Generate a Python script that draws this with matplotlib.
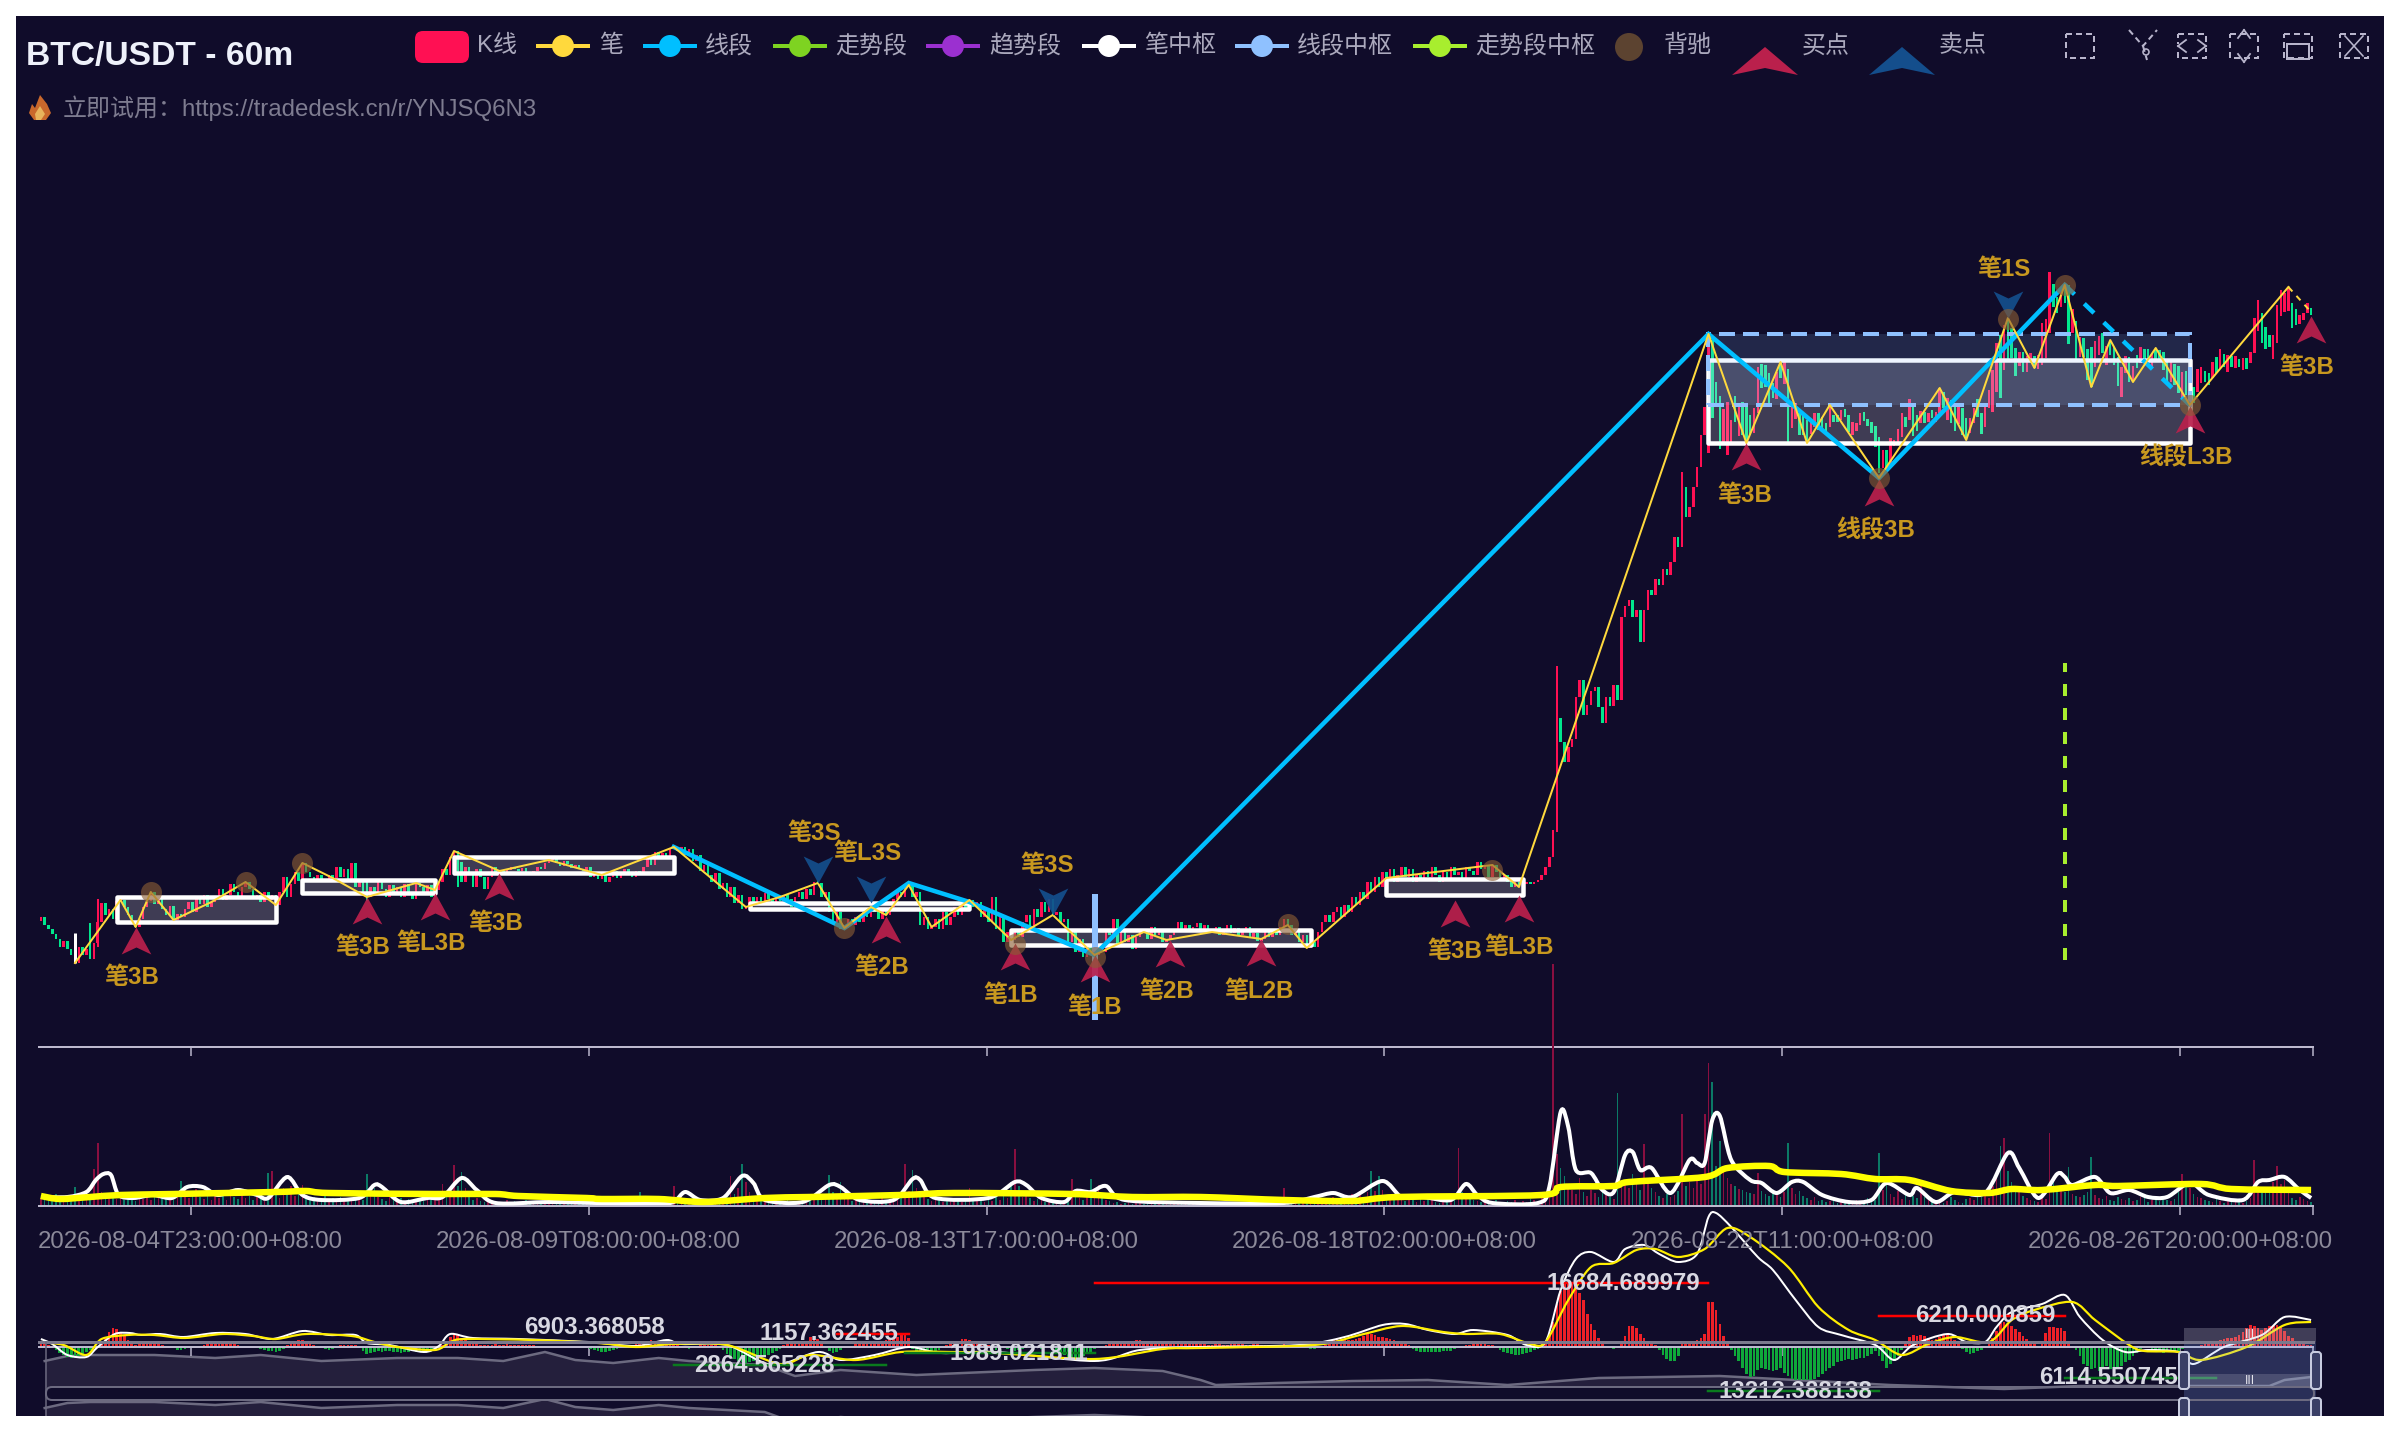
import numpy as np
import matplotlib
matplotlib.use('Agg')
import matplotlib.pyplot as plt
from matplotlib.path import Path
from matplotlib.patches import Rectangle, FancyBboxPatch, Circle, Polygon, PathPatch

plt.rcParams['font.family'] = ['Liberation Sans', 'Noto Sans CJK SC', 'DejaVu Sans']

# ---------- data (price / volume / MACD in screen-proportional units) ----------
first_open = 126
closes = [
 130,122,118,113,108,100,106,98,92,84,
 100,92,98,88,104,125,144,132,138,128,146,147,
 140,132,125,120, 128,140,146,155, 143,150,138,132,141,127,
 133,130,138,145,135,148,143,152,140,145,
 150,158,147,152,163,155,148,160,165,
 158,150,152,145,155,147,152,142,
 155,170,150,163,175,166,184,
 175,170,166,172,168,165,172,169,
 180,170,178,165,184,160,168,155,150,
 160,152,165,158,150,162,155,160,150,163,155,148,164,
 160,153,162,150,157, 165,178,172,190,196,
 185,165,180,172,160,178,170,158,170,180,172,176,
 172,177,180,178,176,179,174,172,176,180,178,184,187,
 190,184,181,186,183,179,182,178,176,180,170,174,168,172,
 165,170,176,169,173,178,173,170,176,172,180,190,182,195,188,194,191,198,200,
 196,200,192,198,186,192,176,182,172,165,174,158,164,150,160,144,152,138,140,
 150,144,150,146,154,148,144,150,146,152,148,140,150,155,148,158,152,165,164,
 150,155,135,125,135,118,119, 128,122,130,125,135,130,140, 135,128,138,132,
 140,148,155,150,160,162, 150,155,122,130,118,120,
 128,118,135,122,130,140,132,145,138,147,
 140,145,130,138,125,150,118,130,105,115,107,
 118,110,125,132,120,138,130,145,135,148,132,
 135,125,128,105,115,95,108,90,100,92,92,
 100,95,118,112,128,100,118,105,112,98,110,118,115,
 108,120,112,118,105,107,
 112,118,125,118,122,115,120,124,118,122,116,115,
 120,112,118,122,114,119,112,116,120,110,114,106,108,
 115,110,118,112,120,128,122, 112,116,105,112,99,
 105,100,115,125,132,125,135,140,130,142,135,150,142,155,148,165,155,170,160,175,169,
 178,165,172,180,170,178,165,172,168,176,170,180,172,165,175,168,180,172,175,168,180,176,172,185,178,182,170,182,
 175,168,172,165,160,165,160,
 163,164,163,165,167,172,180,
 190,217,329,305,285,300,308,350,367,332,342,356,360,340,324,350,341,362,347,430,441,447,430,437,405,437,457,
 452,468,462,478,472,485,510,500,560,530,540,560,580,612,640,
]
wick_idx  = [13,86,400,417,433,15,110]
wick_high = [124,165,381,430,575,148,192]
wick_low  = [89,146,215,357,514,100,160]

# bars 440..599: top, bottom, rising flag
late_high = [714,707,665,651,638,645,627,651,640,645,640,632,639,680,683,682,674,664,675,686,
 686,678,640,644,634,634,627,628,634,634,630,624,640,632,632,637,638,632,625,624,
 634,635,628,625,621,610,597,597,609,607,618,634,630,648,644,632,636,635,634,637,
 635,659,655,649,647,642,640,639,629,629,639,648,634,642,657,677,704,712,722,727,
 719,699,695,695,691,694,691,692,724,728,775,763,750,757,760,762,738,726,710,709,
 698,700,706,711,714,701,707,700,690,680,691,690,681,692,700,698,698,694,697,697,
 695,687,688,683,681,675,676,661,660,678,680,676,674,685,690,698,693,692,691,691,
 688,689,689,695,729,747,734,720,712,712,742,757,754,760,744,738,732,734,744,739]
late_low = [594,629,641,598,603,592,602,625,611,612,606,612,614,634,659,660,644,649,648,669,
 663,602,619,628,612,612,602,613,620,617,615,615,620,625,625,627,630,615,612,616,
 622,626,621,614,600,574,579,579,582,601,603,610,620,627,611,616,624,624,625,629,
 625,634,639,627,624,616,623,612,607,614,624,630,613,620,639,635,655,649,677,685,
 689,671,681,675,675,686,679,678,682,689,714,740,734,740,744,703,714,686,690,690,
 667,660,680,692,694,682,692,682,661,650,674,665,667,679,684,684,684,679,685,687,
 677,664,665,662,654,649,652,630,644,655,664,665,662,669,674,679,680,675,680,679,
 680,677,678,684,694,716,704,698,700,688,704,731,735,736,719,722,723,727,734,732]
late_up = [1,0,0,0,1,1,1,0,1,0,0,0,1,1,0,0,0,0,1,0,
 1,0,1,1,0,0,0,1,1,0,0,0,1,0,0,1,0,0,1,1,
 1,0,0,0,0,0,1,0,1,1,1,1,0,1,0,0,1,0,1,0,
 1,1,0,1,0,0,1,0,0,1,1,0,0,1,1,1,1,0,1,0,
 0,0,1,0,1,1,0,1,1,1,1,0,0,1,0,0,1,0,1,0,
 0,0,1,1,0,1,0,0,0,1,1,0,1,0,1,0,0,1,0,0,
 0,0,1,0,0,1,0,1,0,1,1,0,0,1,0,1,0,1,0,1,
 0,1,0,1,1,1,0,0,0,1,1,1,1,1,0,0,1,1,1,0]

bi_idx = [9,21,25,29,35,45,54,62,69,77,86,99,104,109,121,134,148,167,186,195,205,212,219,223,229,235,245,256,267,278,291,297,309,322,329,334,355,383,390,440,450,459,466,472,485,501,508,519,526,534,541,546,552,558,567,593]
bi_val = [84,147,120,155,127,145,165,142,184,169,150,164,157,196,176,187,172,200,140,150,164,119,140,132,162,120,147,107,132,92,115,107,115,108,122,99,169,182,160,713,604,685,604,642,569,659,607,729,679,762,660,707,665,699,642,760]
bi_dash_idx = [593,599]
bi_dash_val = [760,735]

seg_idx = [167,212,229,245,278,440,485,534]
seg_val = [200,119,164,145,92,713,569,762]
seg_dash_idx = [534,567]
seg_dash_val = [762,642]

# pen hubs: start bar, end bar, low, high
bi_hub_start = [20,69,109,187,256,355,440]
bi_hub_end   = [62,104,167,245,335,391,567]
bi_hub_low   = [125,154,174,138,102,152,604]
bi_hub_high  = [150,167,190,144,117,168,687]
seg_hub = (440,567,642,713)
seg_hub_flat = (278,27,153)
bi_hub_flat = (9,84,114)
trend_hub_flat = (534,87,384)

buy_idx = [25,86,104,121,223,257,278,298,322,373,390,450,485,567,599]
buy_val = [120,150,154,174,131,104,92,107,108,147,152,604,568,641,731]
sell_idx = [205,219,267,519]
sell_val = [164,144,132,729]
div_idx = [29,54,69,212,257,278,329,383,519,534,485,567]
div_val = [155,165,184,119,103,90,123,177,728,762,569,642]

sig_text = ['笔3B','笔3B','笔L3B','笔3B','笔3S','笔L3S','笔2B','笔1B','笔1B','笔3S','笔2B','笔L2B','笔3B','笔L3B','笔3B','线段3B','线段L3B','笔1S','笔3B']
sig_idx  = [24,85,103,120,204,218,222,256,278,265.5,297,321.5,373,390,449.5,484,566,518,598]
sig_val  = [69,99,104,124,214,193,80,52,40,182,56,56,95,100,552,516,589,778,680]

volume = [
 8,6,9,5,12,7,10,6,8,19,6,9,11,7,37,63,14,10,8,12,
 7,9,6,11,8,5,10,7,12,6,9,8,13,7,10,6,9,25,18,8,
 11,17,9,7,12,6,14,8,10,6,13,9,7,15,8,10,6,9,12,7,
 33,35,11,8,18,14,20,10,12,21,8,6,9,5,7,10,6,8,4,9,
 6,8,5,7,10,6,32,14,18,9,7,5,9,6,4,8,5,7,6,4,
 8,5,7,6,9,11,22,14,16,41,20,34,18,9,6,8,5,4,6,3,
 5,3,4,6,3,5,2,4,6,3,5,4,3,6,4,3,5,2,4,3,
 5,3,4,2,5,3,4,3,5,2,4,3,5,4,2,3,5,3,14,4,
 5,3,6,4,3,5,6,20,8,11,6,4,9,3,5,7,4,6,5,3,
 9,13,30,12,18,42,24,14,9,6,8,5,7,4,6,5,3,6,4,5,
 4,6,3,5,7,9,8,12,31,14,9,24,12,7,5,8,6,4,7,5,
 6,4,8,5,7,9,6,11,42,15,36,18,12,9,7,5,8,6,4,7,
 5,6,8,4,7,18,5,8,6,4,7,5,9,6,11,8,24,57,20,9,
 14,8,5,7,6,4,5,3,6,4,3,5,27,10,8,6,9,27,12,21,
 8,6,5,3,4,2,3,5,2,4,3,2,4,3,2,3,2,4,3,2,
 3,2,4,2,3,2,3,2,1,3,2,3,2,3,2,3,2,2,3,2,
 3,2,3,2,4,3,2,3,18,3,4,2,5,3,4,6,3,5,4,6,
 7,9,8,10,6,8,12,9,11,9,14,35,15,30,16,11,8,6,9,7,
 5,8,6,4,7,5,9,6,4,3,6,5,7,8,58,14,12,8,6,5,
 4,7,5,3,6,4,3,5,4,6,3,5,4,7,6,5,8,14,20,242,
 52,38,30,18,16,12,28,14,10,16,13,9,15,11,9,7,113,20,24,18,
 32,22,16,62,26,18,14,10,8,12,9,11,15,92,20,24,18,30,22,92,
 143,124,40,65,38,28,22,20,17,16,14,13,12,33,15,12,10,16,12,9,
 14,63,18,12,15,10,8,6,9,5,6,4,5,7,3,4,5,3,4,6,
 3,5,8,4,6,53,16,22,12,9,15,7,11,6,10,8,23,9,7,5,
 4,6,3,5,9,6,4,3,7,8,6,11,9,14,8,20,30,60,68,35,
 24,18,14,10,8,6,5,4,9,7,73,25,18,16,14,39,12,10,9,11,
 14,49,11,8,7,10,6,5,9,7,6,8,5,6,9,8,4,6,7,5,
 8,6,5,7,14,32,22,18,12,9,8,6,5,4,7,5,3,6,4,5,
 6,3,5,8,46,20,16,14,18,24,40,22,26,15,8,6,9,7,5,4,
]

vol_ma_fast_idx = [0,7,12,14.5,16.5,18.5,20.5,24.5,29.5,34.6,38.6,42.7,46.7,52,57,60,65,69,74,84,88,90,95,102,106,111,115,120,134,146.5,163,167,170,174,180,185,188,191,201,208,211,216,225,230,232,236,250,257,260,264,270,273,277,281,286,306,328,336,341,346,354,359,364.5,372,376,379,383,395,398,401,403,405,409,412,415,418,420,422,425,430,435,437,439,441,443,446,451,454,458,462,465,470,477,483,487,493,495,500,505,513,519,522,527,532,534,536,542,546,551,556,561,567,572,581,585,588,592,596,599]
vol_ma_fast = [9,9,14,26,32,31,11,8,11,8,19,19,11,16,11,8,29,11,6,8,21,19,4,8,9,28,16,3,4,3,3,4,14,6,8,30,23,6,4,21,19,6,6,27,26,8,8,24,21,8,4,15,14,20,6,3,3,9,13,9,25,9,9,6,22,11,3,3,19,94,79,36,33,16,14,51,54,36,38,13,46,43,43,86,90,46,26,23,13,24,24,11,4,6,23,11,18,4,14,13,53,38,8,32,29,21,29,13,16,9,9,23,11,6,24,26,29,16,8]
vol_ma_slow_idx = [0,5,13,21,35,62,70,76,104,120,126,144,148,163,175,191,203,227,241,272,288,306,328,346,358,396,401,415,419,439,445,456,460,475,484,493,504,514,520,528,542,548,570,578,599]
vol_ma_slow = [10,7,9,11,12,14,15,13,12,12,10,8,7,7,4,8,9,11,13,12,9,9,6,5,9,11,19,20,24,29,38,40,34,32,27,26,15,13,17,16,21,20,22,17,16]

macd_hist = [
 5,3,1,-1,-4,-7,-9,-11,-12,-11,-10,-8,-6,-4,-2,-1,
 2,8,14,18,17,14,10,6,3,
 1,2,2,3,3,3,2,1,0,
 -1,-2,-4,-4,-3,-1,-1,-1,0,
 1,2,3,3,3,3,3,2,2,1,0,0,0,
 -1,-2,-3,-4,-5,-5,-6,-5,-3,
 1,3,5,6,6,4,2,1,
 0,-1,-3,-4,-3,-1,
 1,1,1,1,1,
 -2,-5,-8,-7,-6,-5,-6,-5,-5,-6,-6,-7,-6,-6,-5,-6,-5,-5,-4,-3,-1,-1,
 1,5,9,12,11,8,7,5,3,2,1,
 1,1,1,2,1,1,2,1,1,1,1,1,1,1,
 -1,-1,-1,-2,-1,-1,-2,-1,-1,-1,-2,-1,-1,
 -2,-3,-4,-5,-6,-6,-5,-4,-3,-2,-1,-1,
 1,2,3,4,5,6,5,4,3,3,2,2,1,
 -1,-2,-3,-2,-1,1,1,1,1,1,
 -1,-4,-8,-11,-13,-15,-16,-17,-16,-15,-14,-12,-11,-9,-7,-5,-3,
 1,2,3,3,3,4,5,9,10,7,5,
 -2,-5,-7,-6,-4,-2,-1,-1,
 2,4,4,4,5,5,5,5,6,7,8,9,11,11,8,
 -3,-5,-6,-7,-7,-6,-5,-4,-2,
 1,2,3,5,7,7,6,4,3,2,1,1,
 -2,-4,-3,-2,-3,-4,-5,-4,-3,-2,-2,-1,-2,-3,-2,-1,
 -2,-4,-6,-9,-11,-12,-12,-12,-10,-8,-6,-3,-2,-1,
 1,2,3,3,2,2,3,5,6,6,5,4,3,3,3,2,2,3,3,4,4,3,2,2,2,
 2,2,1,1,2,2,1,1,2,2,3,2,1,1,2,2,1,1,1,1,1,1,2,1,1,1,1,
 -1,-2,-3,-3,-2,-1,1,
 3,6,8,7,6,6,6,7,8,10,12,12,11,9,9,8,7,6,5,4,2,1,
 -3,-5,-6,-6,-6,-6,-6,-6,-5,-5,-5,-3,-2,-1,
 1,1,2,3,3,2,1,1,
 -2,-4,-6,-7,-8,-9,-9,-8,-7,-6,-4,-3,-1,
 3,10,24,42,55,62,62,62,62,53,46,32,22,16,8,4,
 -1,-2,-3,-1,
 2,10,20,20,18,12,8,4,2,1,
 -4,-9,-13,-15,-15,-10,
 2,3,4,5,6,8,12,44,44,36,22,10,5,
 -4,-10,-15,-22,-28,-31,-30,-24,-22,-23,-24,-25,-24,-22,-27,-30,-33,-34,-34,-34,-34,-34,-33,-31,-28,-25,-22,-20,-16,-15,-14,-13,-14,-13,-12,-12,-10,-8,-5,
 -10,-15,-22,-18,-15,-10,-4,
 4,9,11,10,11,10,8,6,7,9,11,11,9,6,3,
 -3,-6,-8,-7,-5,-4,-2,
 3,8,15,23,24,22,20,17,14,10,7,4,2,
 0,5,13,19,19,18,18,15,4,
 -1,-4,-10,-18,-20,-23,-22,-25,-23,-20,-23,-21,-22,-20,-16,-14,-10,-7,-3,
 -1,-2,-3,-5,-6,-7,-6,-4,-5,-6,-3,-2,-2,-1,-1,
 1,2,3,4,5,6,7,8,8,9,11,14,18,21,20,18,16,18,20,20,21,19,15,10,8,5,3,2,1,1,
]

dif_idx = [0,3,7,12,15,19.5,23.5,26.5,31.5,37.6,46,54,61,69,76,83,86,92,101,105,108,114,126,144.6,157,165,169,181,193,205,211,220,229,237.5,252,278,290,306,332,344,354,360,366,373,378,387,392,397,401,405,409,415,418,423,427,432,437,440,442,446,453,457,463,469,475,484,489,494,503,508,513,516,520,528,534,538,544,550,556,564,568,576,586,592,599]
dif_val = [7,2,-9,-11,-1,12,13,11,12,9,13,12,7,15,11,11,3,1,-6,0,12,8,7,4,0,6,2,1,-19,-6,-14,-9,-1,-7,-6,-15,-4,-1,1,9,21,22,16,12,16,11,1,4,56,87,94,84,97,101,92,84,92,129,133,119,89,76,46,19,11,1,-14,1,12,4,4,19,34,42,51,29,6,-6,-4,-6,-18,-1,11,29,26]
dea_idx = [0,6,12,16,23,30,38,48,56,62,70,82,88,94,104,108,112,130,147,157,167,181,195,203,215,227,240,252,278,296,306,336,348,359,370,376,385,393,397,403,409,415,421,426,432,439,445,451,461,469,477,484,491,498,505,514,520,526,536,542,551,555,564,570,582,592,599]
dea_val = [4,1,-9,7,11,11,8,12,10,7,12,10,4,-1,-4,4,7,6,3,-1,2,1,-18,-9,-14,-6,-6,-7,-13,-3,-2,1,11,20,14,12,12,2,4,46,79,83,96,97,89,97,118,109,79,39,16,6,-9,2,9,4,26,36,44,26,1,-5,-6,-14,-1,21,24]

mark_text = ['6903.368058','1157.362455','2864.565228','1989.021811','16684.689979','13212.388138','6210.000859','6114.550745']
mark_val  = [19,12,-19,-7,63,-45,30,-32]
mark_label_idx = [146,208,191,258,417.5,463,513,545.5]
mark_start = [None,210,167,228,278,440,485,534]
mark_end   = [None,229,223,278,440,485,534,574]
mark_up    = [True,True,False,False,True,False,True,False]

shadow_idx = [1,7,13,30,46,58,74,94,110,122,133,141,151,163,171,191,199,211,231,262,278,296,306,310,326,346,366,387,411,443,463,488,518,538,562,568,588,592,599]
shadow_val = [26,31,32,32,29,32,26,29,29,26,35,27,24,29,26,22,11,17,12,17,19,16,7,2,4,6,7,2,9,11,7,2,-2,1,1,1,1,7,10]

tick_pos = [40,145,250,355,460,565,600]
tick_labels = ['2026-08-04T23:00:00+08:00','2026-08-09T08:00:00+08:00','2026-08-13T17:00:00+08:00',
               '2026-08-18T02:00:00+08:00','2026-08-22T11:00:00+08:00','2026-08-26T20:00:00+08:00','']
legend_names = ['笔','线段','走势段','趋势段','笔中枢','线段中枢','走势段中枢']

assert len(closes) == 440, f'closes {len(closes)}'
assert len(late_high) == 160 and len(late_low) == 160 and len(late_up) == 160, f'late {len(late_high)} {len(late_low)} {len(late_up)}'
assert len(volume) == 600, f'volume {len(volume)}'
assert len(vol_ma_fast) == len(vol_ma_fast_idx), 'vf'
assert len(vol_ma_slow) == len(vol_ma_slow_idx), 'vs'
assert len(dif_val) == len(dif_idx), 'dif'
assert len(dea_val) == len(dea_idx), 'dea'
assert len(shadow_val) == len(shadow_idx), 'sh'
assert len(bi_val) == len(bi_idx), 'bi'
assert len(macd_hist) == 600, f'macd {len(macd_hist)}'

# ---------- styles ----------
BG = '#100C2A'; UP = '#FF1053'; DOWN = '#00E68C'
C_BI = '#FFD93D'; C_SEG = '#00BFFF'; C_TREND = '#7ED321'; C_QS = '#9B30D0'
C_BIHUB = '#FFFFFF'; C_SEGHUB = '#8FC1FF'; C_TRENDHUB = '#A8EE2E'
C_BUY = '#BA204C'; C_SELL = '#144E8C'; C_DIV = '#8B5E34'
C_GOLD = '#C8981F'; C_AXIS = '#BDB9CE'; C_TICK = '#8C8A9A'; C_LEG = '#ABA9BD'
W, H = 2400, 1440
PT = 72 / 100

fig = plt.figure(figsize=(24, 14.4), dpi=100, facecolor='white')

def px_axes(x0, y0, x1, y1, z):
    ax = fig.add_axes([x0 / W, 1 - y1 / H, (x1 - x0) / W, (y1 - y0) / H], zorder=z)
    ax.patch.set_alpha(0)
    return ax

def smooth(ax, xs, ys, t=0.3, **kw):
    """Draw a smoothed line through the given points (as the chart's smooth:true line)."""
    p = np.column_stack([xs, ys]).astype(float)
    verts = [p[0]]; codes = [Path.MOVETO]
    for k in range(len(p) - 1):
        a = p[max(k - 1, 0)]; b = p[k]; c = p[k + 1]; d = p[min(k + 2, len(p) - 1)]
        verts += [b + (c - a) * t / 2, c - (d - b) * t / 2, c]
        codes += [Path.CURVE4] * 3
    ax.add_patch(PathPatch(Path(verts, codes), fc='none', **kw))

bg = px_axes(0, 0, W, H, 0)
bg.set_xlim(0, W); bg.set_ylim(H, 0); bg.axis('off')
bg.add_patch(Rectangle((16, 16), 2368, 1400, fc=BG, ec='none'))

top = px_axes(0, 0, W, H, 6)
top.set_xlim(0, W); top.set_ylim(H, 0); top.axis('off')

def plain(ax, bottom_pos=None):
    for s in ['top', 'left', 'right']:
        ax.spines[s].set_visible(False)
    ax.set_yticks([])
    ax.set_xlim(0, 600)
    ax.spines['bottom'].set_color(C_AXIS)
    ax.spines['bottom'].set_linewidth(2 * PT)
    if bottom_pos is not None:
        ax.spines['bottom'].set_position(('data', bottom_pos))
    ax.set_xticks(tick_pos)
    ax.set_xticklabels([])
    ax.tick_params(axis='x', color=C_AXIS, length=9 * PT, width=1.5 * PT)

# ---------- main candles ----------
ax = px_axes(39, 140, 2313, 1047, 3)
ax.set_ylim(0, 907)
plain(ax)
x = np.arange(600) + 0.5
c = np.array(closes, float)
o = np.r_[first_open, c[:-1]]
l_up = np.array(late_up, bool)
l_hi = np.array(late_high, float); l_lo = np.array(late_low, float)
o = np.r_[o, np.where(l_up, l_lo, l_hi)]
c = np.r_[c, np.where(l_up, l_hi, l_lo)]
up = c >= o
cols = np.where(up, UP, DOWN)
hi = np.maximum(o, c); lo = np.minimum(o, c)
ax.bar(x, np.maximum(hi - lo, 2), bottom=lo, width=0.66, color=cols, linewidth=0, zorder=2)
ax.vlines(x[wick_idx], wick_low, wick_high, colors=cols[wick_idx], linewidth=2 * PT, zorder=2)

for a, b, l, h in zip(bi_hub_start, bi_hub_end, bi_hub_low, bi_hub_high):
    ax.add_patch(Rectangle((a + .5, l), b - a, h - l, fc=(1, 1, 1, .2), ec=C_BIHUB, lw=4.5 * PT, zorder=3, joinstyle='round'))
a, b, l, h = seg_hub
ax.add_patch(Rectangle((a + .5, l), b - a, h - l, fc=(0.56, 0.76, 1, .15), ec='none', zorder=3))
ax.add_patch(Rectangle((a + .5, l), b - a, h - l, fc='none', ec=C_SEGHUB, lw=4 * PT, ls=(0, (4, 2)), zorder=4))
ax.vlines(seg_hub_flat[0] + .5, seg_hub_flat[1], seg_hub_flat[2], color=C_SEGHUB, lw=6 * PT, zorder=4)
ax.vlines(bi_hub_flat[0] + .5, bi_hub_flat[1], bi_hub_flat[2], color=C_BIHUB, lw=3 * PT, zorder=4)
ax.plot([trend_hub_flat[0] + .5] * 2, trend_hub_flat[1:], color=C_TRENDHUB, lw=4 * PT, ls=(0, (3, 3)), zorder=4)

ax.plot(np.array(seg_idx) + .5, seg_val, color=C_SEG, lw=4.5 * PT, zorder=5, solid_joinstyle='miter')
ax.plot(np.array(seg_dash_idx) + .5, seg_dash_val, color=C_SEG, lw=4.5 * PT, ls=(0, (3, 3)), zorder=5, dash_capstyle='butt')
ax.plot(np.array(bi_idx) + .5, bi_val, color=C_BI, lw=2 * PT, zorder=6)
ax.plot(np.array(bi_dash_idx) + .5, bi_dash_val, color=C_BI, lw=2 * PT, ls=(0, (3, 3)), zorder=6)

arrow_up = Path([(0, 0), (.55, -1), (0, -.74), (-.55, -1), (0, 0)], closed=True)
arrow_dn = Path([(0, 0), (.55, 1), (0, .74), (-.55, 1), (0, 0)], closed=True)
size_arrow = (2 * 27 * PT) ** 2
ax.scatter(np.array(buy_idx) + .5, buy_val, marker=arrow_up, s=size_arrow, color=C_BUY, alpha=.93, lw=0, zorder=7, clip_on=False)
ax.scatter(np.array(sell_idx) + .5, sell_val, marker=arrow_dn, s=size_arrow, color=C_SELL, alpha=.93, lw=0, zorder=7, clip_on=False)
ax.scatter(np.array(div_idx) + .5, div_val, marker='o', s=(21 * PT) ** 2, color=C_DIV, alpha=.62, lw=0, zorder=8, clip_on=False)
for t, i, v in zip(sig_text, sig_idx, sig_val):
    ax.text(i + .5, v, t, color=C_GOLD, fontsize=24 * PT, fontweight='bold', ha='center', va='center', zorder=9)

# ---------- volume ----------
vax = px_axes(39, 950, 2313, 1206, 3)
vax.set_ylim(0, 256)
plain(vax)
vax.set_xticklabels(tick_labels, color=C_TICK, fontsize=24 * PT)
vax.tick_params(axis='x', pad=16 * PT, labelcolor=C_TICK)
vcols = np.where(up, '#8A0F40', '#0B7A66')
vax.bar(x, volume, width=0.42, color=vcols, linewidth=0, zorder=2)
smooth(vax, np.array(vol_ma_fast_idx) + .5, vol_ma_fast, ec='white', lw=4 * PT, zorder=3)
smooth(vax, np.array(vol_ma_slow_idx) + .5, vol_ma_slow, ec='#FFFF00', lw=6.5 * PT, zorder=3)

# ---------- sliders ----------
for (y0, y1, bot, tp) in [(1342, 1395, -8, 45), (1400, 1416, 18, 34)]:
    sax = px_axes(39, y0, 2313, y1, 1)
    sax.set_xlim(0, 600); sax.set_ylim(bot, tp); sax.axis('off')
    sx = np.array(shadow_idx) + .5
    sax.fill_between(sx, 0, shadow_val, color='#241F3C', lw=0, zorder=1)
    sax.plot(sx, shadow_val, color='#6C6A80', lw=2.5 * PT, zorder=2)

# ---------- MACD ----------
max_ = px_axes(39, 1200, 2313, 1416, 2)
max_.set_ylim(-70, 146)
plain(max_, bottom_pos=-1)
hc = np.where(np.array(macd_hist) >= 0, '#EE2027', '#0FA83A')
max_.bar(x, macd_hist, width=0.72, color=hc, linewidth=0, zorder=2)
smooth(max_, np.array(dif_idx) + .5, dif_val, ec='white', lw=2 * PT, zorder=3)
smooth(max_, np.array(dea_idx) + .5, dea_val, ec='#FFEE00', lw=2.2 * PT, zorder=3)
for t, v, li, s, e, u in zip(mark_text, mark_val, mark_label_idx, mark_start, mark_end, mark_up):
    if s is not None:
        max_.plot([s + .5, e + .5], [v, v], color='#FF0000' if u else '#0A7A1E', lw=2.5 * PT, zorder=4)
    max_.text(li + .5, v, t, color='#D8D8E2', fontsize=24 * PT, fontweight='bold', ha='center', va='center', zorder=5)

# ---------- slider chrome ----------
top.add_patch(Rectangle((2184, 1342), 132, 74, fc=(.53, .69, 1, .22), ec='none'))
top.add_patch(Rectangle((2184, 1328), 132, 14, fc=(.75, .75, .8, .28), ec='none'))
top.add_patch(Rectangle((2184, 1374), 132, 13, fc=(.75, .75, .8, .22), ec='none'))
top.plot([39, 2313], [1342, 1342], color='#7C7A8E', lw=3 * PT)
top.plot([46, 46], [1342, 1416], color='#6C6A80', lw=1.5 * PT)
top.add_patch(FancyBboxPatch((46, 1387), 2268, 13, boxstyle='round,pad=0,rounding_size=6', fc='none', ec='#6C6A80', lw=2 * PT))
top.text(2250, 1335, 'III', color='#E8E8F0', fontsize=12 * PT, ha='center', va='center')
top.text(2250, 1381, 'III', color='#E8E8F0', fontsize=12 * PT, ha='center', va='center')
for hx in [2184, 2316]:
    top.add_patch(FancyBboxPatch((hx - 5, 1352), 10, 37, boxstyle='round,pad=0,rounding_size=3', fc='#3A3F66', ec='#C8CCE0', lw=2 * PT))
    top.add_patch(FancyBboxPatch((hx - 5, 1398), 10, 30, boxstyle='round,pad=0,rounding_size=3', fc='#3A3F66', ec='#C8CCE0', lw=2 * PT))
top.add_patch(Rectangle((0, 1416), W, 24, fc='white', ec='none', zorder=20))

# ---------- title, subtitle ----------
top.text(26, 56, 'BTC/USDT - 60m', color='#EEF1FA', fontsize=33.7 * PT, fontweight='bold', ha='left', va='center')
top.text(63, 108, '立即试用：https://tradedesk.cn/r/YNJSQ6N3', color='#7E7C90', fontsize=24 * PT, ha='left', va='center')
top.add_patch(Polygon([(40, 95), (47, 104), (51, 113), (46, 120), (34, 120), (29, 113), (32, 104), (35, 108)], fc='#C9682C', ec='none'))
top.add_patch(Polygon([(40, 106), (45, 114), (41, 120), (36, 120), (35, 114)], fc='#E8B45C', ec='none'))

# ---------- legend ----------
top.add_patch(FancyBboxPatch((415, 31), 54, 32, boxstyle='round,pad=0,rounding_size=8', fc=UP, ec='none'))
top.text(477, 46, 'K线', color=C_LEG, fontsize=24 * PT, va='center')
leg_icon_x = [563, 670, 800, 953, 1109, 1262, 1440]
leg_text_x = [599, 705, 835, 989, 1144, 1297, 1475]
leg_cols = [C_BI, C_SEG, C_TREND, C_QS, C_BIHUB, C_SEGHUB, C_TRENDHUB]
for n, ix, tx, col in zip(legend_names, leg_icon_x, leg_text_x, leg_cols):
    top.plot([ix - 25, ix + 25], [46, 46], color=col, lw=4 * PT)
    top.add_patch(Circle((ix, 46), 11, fc=col, ec='none'))
    top.text(tx, 46, n, color=C_LEG, fontsize=24 * PT, va='center')
top.add_patch(Circle((1629, 47), 14, fc='#5C4330', ec='none'))
top.text(1664, 46, '背驰', color=C_LEG, fontsize=24 * PT, va='center')
for cx, tx, col, name in [(1765, 1802, C_BUY, '买点'), (1902, 1938, C_SELL, '卖点')]:
    top.add_patch(Polygon([(cx, 47), (cx + 33, 75), (cx, 68), (cx - 33, 75)], fc=col, ec='none'))
    top.text(tx, 46, name, color=C_LEG, fontsize=24 * PT, va='center')

# ---------- toolbox ----------
IC = '#B8B5CC'
for cx in [2080, 2192, 2244, 2298, 2354]:
    top.add_patch(Rectangle((cx - 14, 34), 28, 24, fc='none', ec=IC, lw=2 * PT, ls=(0, (3, 2))))
top.plot([2143 - 14, 2143, 2143 + 14], [30, 46, 30], color=IC, lw=2 * PT, ls=(0, (3, 2)))
top.plot([2143, 2143 + 4], [46, 60], color=IC, lw=2 * PT, ls=(0, (3, 2)))
top.add_patch(Circle((2146, 52), 3, fc='none', ec=IC, lw=1.6 * PT))
top.plot([2176, 2208], [46, 46], color=BG, lw=4 * PT)
top.plot([2178, 2186], [46, 40], color=IC, lw=1.8 * PT); top.plot([2178, 2186], [46, 52], color=IC, lw=1.8 * PT)
top.plot([2206, 2198], [46, 40], color=IC, lw=1.8 * PT); top.plot([2206, 2198], [46, 52], color=IC, lw=1.8 * PT)
top.plot([2244, 2238], [30, 38], color=IC, lw=1.8 * PT); top.plot([2244, 2250], [30, 38], color=IC, lw=1.8 * PT)
top.plot([2244, 2238], [62, 54], color=IC, lw=1.8 * PT); top.plot([2244, 2250], [62, 54], color=IC, lw=1.8 * PT)
top.add_patch(Rectangle((2287, 44), 22, 15, fc='none', ec=IC, lw=2 * PT))
top.plot([2345, 2363], [36, 56], color=IC, lw=1.6 * PT)
top.plot([2345, 2363], [56, 36], color=IC, lw=1.6 * PT)

fig.savefig('out.png', dpi=100, facecolor='white')
